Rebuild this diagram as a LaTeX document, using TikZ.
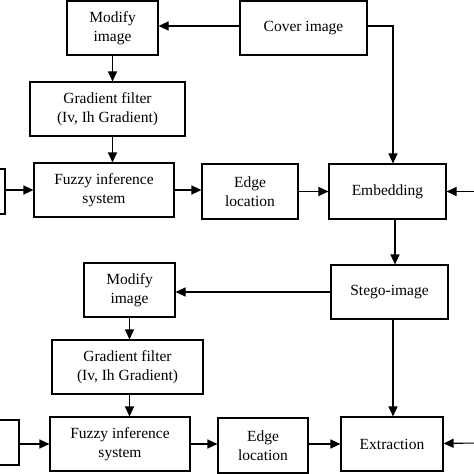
\documentclass[tikz,border=0pt]{standalone}
\usepackage{fontspec}
\setmainfont{Liberation Serif}
\usetikzlibrary{arrows.meta,positioning}

\begin{document}
\begin{tikzpicture}[x=1pt,y=-1pt,>={Triangle[length=10pt,width=9pt]}]
        \useasboundingbox (0,0) rectangle (474,474);
        \clip (0,0) rectangle (474,474);
        \begin{scope}[every node/.style={draw,line width=1.1pt,inner sep=0pt,align=center,font=\fontsize{15.5}{18.5}\selectfont}]
          % embedding part
          \node[minimum width=91pt,minimum height=54pt] (mod1) at (112.5,28) {Modify\\image};
          \node[minimum width=127pt,minimum height=54pt,line width=1.6pt] (cover) at (303.5,28) {Cover image};
          \node[minimum width=155pt,minimum height=54pt] (grad1) at (107.5,109) {Gradient filter\\(Iv, Ih Gradient)};
          \node[minimum width=140pt,minimum height=54pt] (fuzzy1) at (104,190) {Fuzzy inference\\system};
          \node[minimum width=96pt,minimum height=55pt] (edge1) at (250,191.5) {Edge\\location};
          \node[minimum width=117pt,minimum height=55pt] (emb) at (387.5,191.5) {Embedding};
          \node[minimum width=45pt,minimum height=45pt] (in1) at (-17.5,191.5) {};
          % extraction part
          \node[minimum width=117pt,minimum height=54pt] (stego) at (389.5,292) {Stego-image};
          \node[minimum width=91pt,minimum height=54pt] (mod2) at (129.5,290) {Modify\\image};
          \node[minimum width=151pt,minimum height=54pt] (grad2) at (127.5,367) {Gradient filter\\(Iv, Ih Gradient)};
          \node[minimum width=140pt,minimum height=54pt] (fuzzy2) at (120,444) {Fuzzy inference\\system};
          \node[minimum width=90pt,minimum height=55pt] (edge2) at (263,445.5) {Edge\\location};
          \node[minimum width=102pt,minimum height=54pt] (extr) at (392,444) {Extraction};
          \node[minimum width=45pt,minimum height=45pt] (in2) at (-3.5,442.5) {};
        \end{scope}
        \coordinate (key1) at (480,191.5);
        \coordinate (key2) at (480,443);
        \begin{scope}[every edge/.style={draw=black,line width=1.1pt,->}]
          \path (cover.west |- 0,26) edge (mod1.east |- 0,26);
          \path (cover.east |- 0,26) edge[to path={-| (\tikztotarget)}] ([xshift=5.5pt]emb.north);
          \path (mod1.south) edge (mod1.south |- grad1.north);
          \path (mod1.south |- grad1.south) edge (mod1.south |- fuzzy1.north);
          \path (in1.east |- fuzzy1.west) edge (fuzzy1.west);
          \path (fuzzy1.east) edge (fuzzy1.east -| edge1.west);
          \path (edge1) edge (emb);
          \path (key1) edge (emb);
          \path ([xshift=7.5pt]emb.south) edge ([xshift=7.5pt]emb.south |- stego.north);
          \path (stego.west) edge (stego.west -| mod2.east);
          \path (mod2.south) edge (mod2.south |- grad2.north);
          \path (mod2.south |- grad2.south) edge (mod2.south |- fuzzy2.north);
          \path (in2.east |- fuzzy2.west) edge (fuzzy2.west);
          \path (fuzzy2.east) edge (fuzzy2.east -| edge2.west);
          \path (edge2.east |- extr.west) edge (extr.west);
          \path ([xshift=3.5pt]stego.south) edge ([xshift=3.5pt]stego.south |- extr.north);
          \path (key2) edge (extr);
        \end{scope}
      \end{tikzpicture}
\end{document}
